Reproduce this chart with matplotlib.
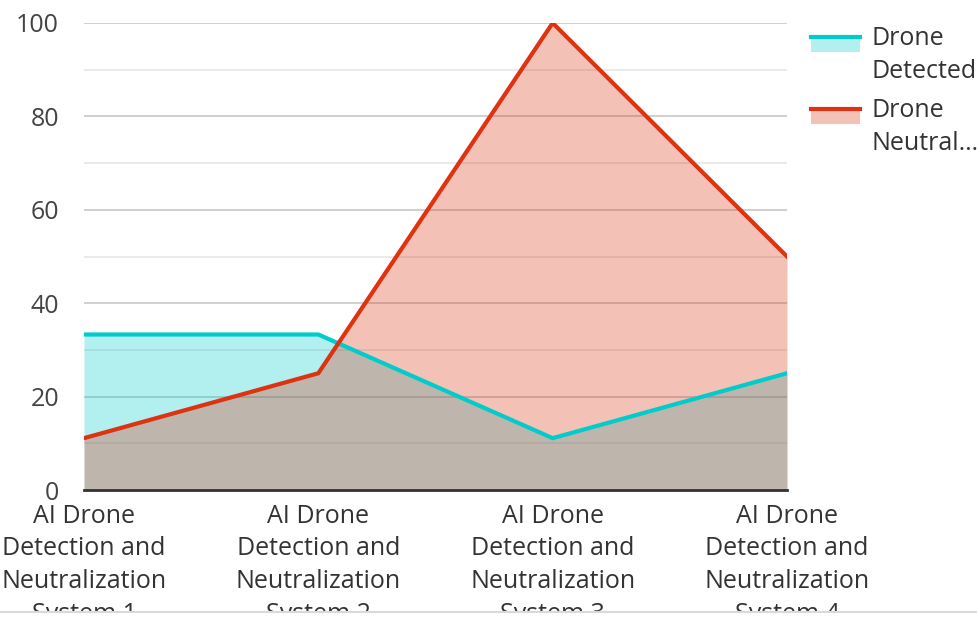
import numpy as np
import matplotlib.pyplot as plt
from matplotlib.patches import Rectangle
from matplotlib.lines import Line2D
from matplotlib.legend_handler import HandlerBase
plt.switch_backend('agg')

plt.rcParams['font.family'] = ['Open Sans', 'DejaVu Sans']

categories = ['AI Drone\nDetection and\nNeutralization\nSystem 1',
              'AI Drone\nDetection and\nNeutralization\nSystem 2',
              'AI Drone\nDetection and\nNeutralization\nSystem 3',
              'AI Drone\nDetection and\nNeutralization\nSystem 4']
detected = [33.3, 33.3, 11.1, 25]
neutralized = [11.1, 25, 100, 50]
series_names = ['Drone\nDetected', 'Drone\nNeutral\u2026']
colors = ['#00cccc', '#dd3311']


class FillLineHandler(HandlerBase):
    def create_artists(self, legend, orig_handle, xdescent, ydescent,
                       width, height, fontsize, trans):
        c = orig_handle.get_color()
        top = height + 0.42 * fontsize
        rect = Rectangle((-xdescent, top - 0.6 * fontsize), width, 0.6 * fontsize,
                         facecolor=c, alpha=0.3, lw=0, transform=trans)
        line = Line2D([-xdescent, -xdescent + width], [top, top],
                      color=c, lw=3, transform=trans)
        return [rect, line]


fig = plt.figure(figsize=(9.78, 6.17), dpi=100)
ax = fig.add_axes([84 / 978, 127 / 617, (787 - 84) / 978, (490 - 23) / 617])

x = np.arange(len(categories))
handles = []
for vals, c, name in zip([detected, neutralized], colors, series_names):
    ax.fill_between(x, 0, vals, color=c, alpha=0.3, lw=0, zorder=2)
    ln, = ax.plot(x, vals, color=c, lw=3, zorder=3, solid_joinstyle='miter')
    handles.append(ln)

ax.set_xlim(0, len(categories) - 1)
ax.set_ylim(0, 100)
ax.set_yticks(np.arange(0, 101, 20))
ax.set_yticks(np.arange(10, 100, 20), minor=True)
ax.grid(axis='y', which='major', color='#c8c8c8', lw=1.2, zorder=1)
ax.grid(axis='y', which='minor', color='#e6e6e6', lw=1.2, zorder=1)
ax.set_xticks(x)
ax.set_xticklabels(categories, fontsize=18, color='#333333', linespacing=1.4)
ax.tick_params(axis='x', length=0, pad=10)
ax.tick_params(axis='y', which='both', length=0, pad=18, labelsize=18, labelcolor='#444444')
for s in ['top', 'right', 'left']:
    ax.spines[s].set_visible(False)
ax.spines['bottom'].set_color('#333333')
ax.spines['bottom'].set_linewidth(2)
ax.spines['bottom'].set_zorder(4)

leg = fig.legend(handles, series_names, loc='upper left',
                 bbox_to_anchor=(789 / 978, 1 - 4 / 617),
                 frameon=False, fontsize=18, labelcolor='#333333',
                 handlelength=1.95, handletextpad=0.45, labelspacing=0.57,
                 handler_map={Line2D: FillLineHandler()})
for t in leg.get_texts():
    t.set_linespacing(1.4)

# bottom strip that clips the labels
fig.patches.append(Rectangle((0, 0), 1, 5 / 617, transform=fig.transFigure,
                             facecolor='white', edgecolor='none', zorder=10))
fig.add_artist(Line2D([0, 1], [5 / 617, 5 / 617], transform=fig.transFigure,
                      color='#d9d9d9', lw=1.5, zorder=11))

fig.savefig('out.png', dpi=100)
plt.close()
